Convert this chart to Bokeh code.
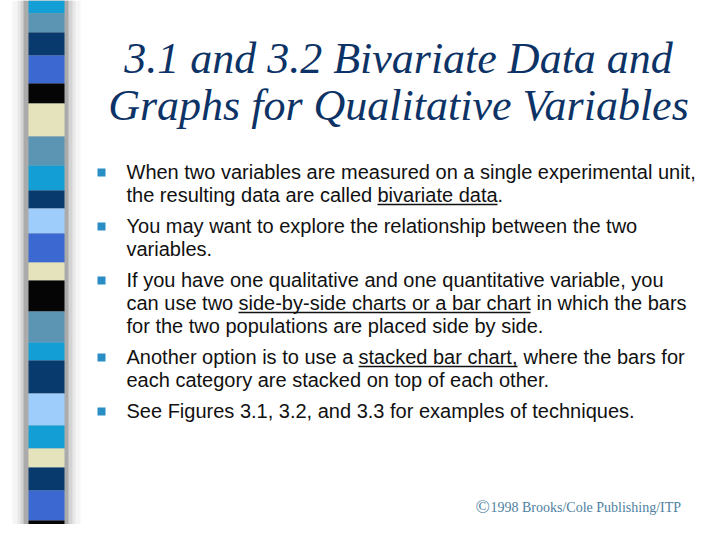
from bokeh.plotting import figure
from bokeh.models import Range1d, ColumnDataSource
from bokeh.core.properties import value
from bokeh.embed import file_html
from bokeh.resources import INLINE

# ---- content ----
title_lines = ["3.1 and 3.2 Bivariate Data and", "Graphs for Qualitative Variables"]

# each body line: list of (text, underlined)
body_lines = [
    [("When two variables are measured on a single experimental unit,", False)],
    [("the resulting data are called", False), ("bivariate data", True), (".", False)],
    [("You may want to explore the relationship between the two", False)],
    [("variables.", False)],
    [("If you have one qualitative and one quantitative variable, you", False)],
    [("can use two", False), ("side-by-side charts or a bar chart", True), ("in which the bars", False)],
    [("for the two populations are placed side by side.", False)],
    [("Another option is to use a", False), ("stacked bar chart,", True), ("where the bars for", False)],
    [("each category are stacked on top of each other.", False)],
    [("See Figures 3.1, 3.2, and 3.3 for examples of techniques.", False)],
]
bullet_line_index = [0, 2, 4, 7, 9]
footer_symbol = "\u00a9"
footer_text = "1998 Brooks/Cole Publishing/ITP"

stripe_colors = ["#139fd6", "#5b95b3", "#083a6e", "#3b69d1", "#050505", "#e4e3bb",
                 "#5b95b3", "#139fd6", "#083a6e", "#9fcdfb", "#3b69d1", "#e4e3bb",
                 "#050505", "#5b95b3", "#139fd6", "#083a6e", "#9fcdfb", "#139fd6",
                 "#e4e3bb", "#083a6e", "#3b69d1", "#050505"]
stripe_edges = [0, 13, 32, 55, 83, 103, 136, 165, 190, 208, 233, 262,
                280, 311, 342, 360, 393, 425, 448, 467, 490, 520, 545]

# ---- layout (pixel coordinates of the slide) ----
W, H = 704, 524
p = figure(width=W, height=H, output_backend="svg", toolbar_location=None,
           x_range=Range1d(0, W), y_range=Range1d(H, 0),
           min_border=0, background_fill_color="white", border_fill_color="white")
p.axis.visible = False
p.grid.visible = False
p.outline_line_color = None

# stripe shadow
for (l, r, c) in [(12, 80, "#f5f5f5"), (17, 75, "#e8e8e8"), (20, 72, "#d4d4d4"), (23, 68, "#ababab")]:
    p.quad(left=l, right=r, top=0, bottom=545, fill_color=c, line_color=None)

src = ColumnDataSource(dict(top=stripe_edges[:-1], bottom=stripe_edges[1:], color=stripe_colors))
p.quad(left=28, right=64, top="top", bottom="bottom", fill_color="color", line_color=None, source=src)

# title
title_base = [70, 117]
title_shift = 12
p.text(x=[398, 398], y=[b - title_shift for b in title_base], text=title_lines, text_align="center",
       text_baseline="alphabetic", text_font=value("Liberation Serif"),
       text_font_style="italic", text_font_size="44px", text_color="#0d3366")

# body
fs = 20
body_shift = 7
baselines = [178, 201, 232, 255, 286, 309, 332, 363, 386, 417]
seg_x = [
    [126],
    [126, 377, 497],
    [126],
    [126],
    [126],
    [126, 238, 536],
    [126],
    [126, 358, 523],
    [126],
    [126],
]
ends = {1: [377, 497], 5: [238, 530], 7: [358, 517]}
tx, ty, tt = [], [], []
ux0, ux1, uy = [], [], []
for i, segs in enumerate(body_lines):
    for j, (s, u) in enumerate(segs):
        tx.append(seg_x[i][j]); ty.append(baselines[i] - body_shift); tt.append(s)
        if u:
            ux0.append(ends[i][0]); ux1.append(ends[i][1]); uy.append(baselines[i] + 3)
p.text(x=tx, y=ty, text=tt, text_align="left", text_baseline="alphabetic",
       text_font=value("Liberation Sans"), text_font_size=f"{fs}px", text_color="#111111")
p.segment(x0=ux0, x1=ux1, y0=uy, y1=uy, line_color="#111111", line_width=1.3)

# bullets
bx = [101] * len(bullet_line_index)
by = [baselines[i] - 6 for i in bullet_line_index]
p.rect(x=bx, y=by, width=8, height=8, fill_color="#2a8ec6", line_color=None)

# footer
p.text(x=[475], y=[506], text=[footer_symbol], text_align="left", text_baseline="alphabetic",
       text_font=value("Liberation Serif"), text_font_size="19px", text_color="#4f7f9f")
p.text(x=[490], y=[507], text=[footer_text], text_align="left", text_baseline="alphabetic",
       text_font=value("Liberation Serif"), text_font_size="14px", text_color="#4f7f9f")

open("out.html", "w").write(file_html(p, INLINE))
